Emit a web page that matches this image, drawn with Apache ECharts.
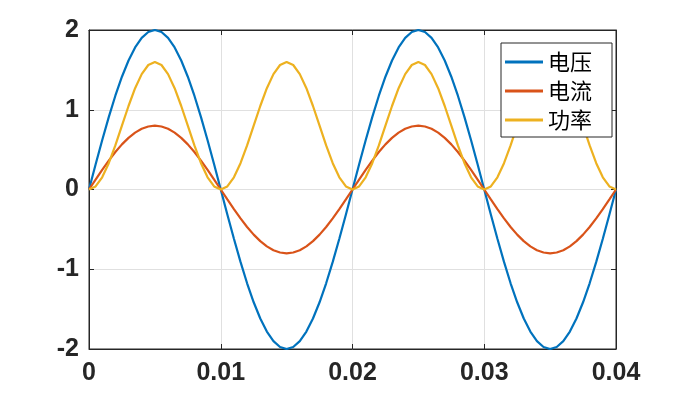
<!DOCTYPE html>
<html>
<head>
<meta charset="utf-8">
<script src="https://cdn.jsdelivr.net/npm/echarts@6/dist/echarts.min.js"></script>
<style>
html,body{margin:0;padding:0;background:#fff;}
#chart{width:680px;height:393px;}
</style>
</head>
<body>
<div id="chart"></div>
<script>
var seriesNames = ['电压', '电流', '功率'];
var xTickLabels = ['0', '0.01', '0.02', '0.03', '0.04'];
var yTickLabels = ['-2', '-1', '0', '1', '2'];

var time = [0,0.0005,0.001,0.0015,0.002,0.0025,0.003,0.0035,0.004,0.0045,
0.005,0.0055,0.006,0.0065,0.007,0.0075,0.008,0.0085,0.009,0.0095,
0.01,0.0105,0.011,0.0115,0.012,0.0125,0.013,0.0135,0.014,0.0145,
0.015,0.0155,0.016,0.0165,0.017,0.0175,0.018,0.0185,0.019,0.0195,
0.02,0.0205,0.021,0.0215,0.022,0.0225,0.023,0.0235,0.024,0.0245,
0.025,0.0255,0.026,0.0265,0.027,0.0275,0.028,0.0285,0.029,0.0295,
0.03,0.0305,0.031,0.0315,0.032,0.0325,0.033,0.0335,0.034,0.0345,
0.035,0.0355,0.036,0.0365,0.037,0.0375,0.038,0.0385,0.039,0.0395,0.04];

var voltage = [0,0.313,0.618,0.908,1.176,1.414,1.618,1.782,1.902,1.975,
2,1.975,1.902,1.782,1.618,1.414,1.176,0.908,0.618,0.313,
0,-0.313,-0.618,-0.908,-1.176,-1.414,-1.618,-1.782,-1.902,-1.975,
-2,-1.975,-1.902,-1.782,-1.618,-1.414,-1.176,-0.908,-0.618,-0.313,
0,0.313,0.618,0.908,1.176,1.414,1.618,1.782,1.902,1.975,
2,1.975,1.902,1.782,1.618,1.414,1.176,0.908,0.618,0.313,
0,-0.313,-0.618,-0.908,-1.176,-1.414,-1.618,-1.782,-1.902,-1.975,
-2,-1.975,-1.902,-1.782,-1.618,-1.414,-1.176,-0.908,-0.618,-0.313,0];

var current = [0,0.125,0.247,0.363,0.470,0.566,0.647,0.713,0.761,0.790,
0.8,0.790,0.761,0.713,0.647,0.566,0.470,0.363,0.247,0.125,
0,-0.125,-0.247,-0.363,-0.470,-0.566,-0.647,-0.713,-0.761,-0.790,
-0.8,-0.790,-0.761,-0.713,-0.647,-0.566,-0.470,-0.363,-0.247,-0.125,
0,0.125,0.247,0.363,0.470,0.566,0.647,0.713,0.761,0.790,
0.8,0.790,0.761,0.713,0.647,0.566,0.470,0.363,0.247,0.125,
0,-0.125,-0.247,-0.363,-0.470,-0.566,-0.647,-0.713,-0.761,-0.790,
-0.8,-0.790,-0.761,-0.713,-0.647,-0.566,-0.470,-0.363,-0.247,-0.125,0];

var power = [0,0.039,0.153,0.330,0.553,0.8,1.047,1.270,1.447,1.561,
1.6,1.561,1.447,1.270,1.047,0.8,0.553,0.330,0.153,0.039,
0,0.039,0.153,0.330,0.553,0.8,1.047,1.270,1.447,1.561,
1.6,1.561,1.447,1.270,1.047,0.8,0.553,0.330,0.153,0.039,
0,0.039,0.153,0.330,0.553,0.8,1.047,1.270,1.447,1.561,
1.6,1.561,1.447,1.270,1.047,0.8,0.553,0.330,0.153,0.039,
0,0.039,0.153,0.330,0.553,0.8,1.047,1.270,1.447,1.561,
1.6,1.561,1.447,1.270,1.047,0.8,0.553,0.330,0.153,0.039,0];

var colors = ['#0072BD', '#D95319', '#EDB120'];

function pairs(ys) {
  return time.map(function (t, i) { return [t, ys[i]]; });
}

var chart = echarts.init(document.getElementById('chart'), null, {renderer: 'canvas'});
var labelFont = {fontFamily: '"Liberation Sans", Arial, sans-serif', fontWeight: 'bold', fontSize: 25, color: '#262626'};
var axisLineStyle = {onZero: false, lineStyle: {color: '#262626', width: 1}};
var tickStyle = {show: true, inside: true, length: 5, lineStyle: {color: '#262626'}};

chart.setOption({
  animation: false,
  backgroundColor: '#ffffff',
  grid: {left: 89, right: 64, top: 30, bottom: 44, show: true, borderColor: '#262626', borderWidth: 1, containLabel: false},
  legend: {
    data: seriesNames,
    orient: 'vertical',
    left: 501, top: 43,
    padding: [8, 20, 6, 4],
    itemWidth: 38, itemHeight: 3, itemGap: 7,
    icon: 'rect',
    z: 50,
    backgroundColor: '#ffffff',
    borderColor: '#262626', borderWidth: 1,
    textStyle: {fontFamily: '"Noto Sans CJK SC", sans-serif', fontSize: 22, lineHeight: 22, color: '#000'}
  },
  xAxis: [{
    type: 'value', min: 0, max: 0.04, interval: 0.01,
    axisLine: axisLineStyle,
    axisTick: tickStyle,
    splitLine: {show: true, lineStyle: {color: '#e0e0e0', width: 1}},
    axisLabel: Object.assign({margin: 12, formatter: function (v, i) { return xTickLabels[i]; }}, labelFont)
  }, {
    type: 'value', min: 0, max: 0.04, interval: 0.01, position: 'top',
    axisLine: axisLineStyle,
    axisTick: tickStyle,
    splitLine: {show: false}, axisLabel: {show: false}
  }],
  yAxis: [{
    type: 'value', min: -2, max: 2, interval: 1,
    axisLine: axisLineStyle,
    axisTick: tickStyle,
    splitLine: {show: true, lineStyle: {color: '#e0e0e0', width: 1}},
    axisLabel: Object.assign({margin: 10, formatter: function (v, i) { return yTickLabels[i]; }}, labelFont)
  }, {
    type: 'value', min: -2, max: 2, interval: 1, position: 'right',
    axisLine: axisLineStyle,
    axisTick: tickStyle,
    splitLine: {show: false}, axisLabel: {show: false}
  }],
  series: [
    {name: seriesNames[0], type: 'line', data: pairs(voltage), showSymbol: false, symbol: 'none', color: colors[0], lineStyle: {width: 2.2, color: colors[0]}, z: 3},
    {name: seriesNames[1], type: 'line', data: pairs(current), showSymbol: false, symbol: 'none', color: colors[1], lineStyle: {width: 2.2, color: colors[1]}, z: 4},
    {name: seriesNames[2], type: 'line', data: pairs(power), showSymbol: false, symbol: 'none', color: colors[2], lineStyle: {width: 2.2, color: colors[2]}, z: 5}
  ]
});
</script>
</body>
</html>
